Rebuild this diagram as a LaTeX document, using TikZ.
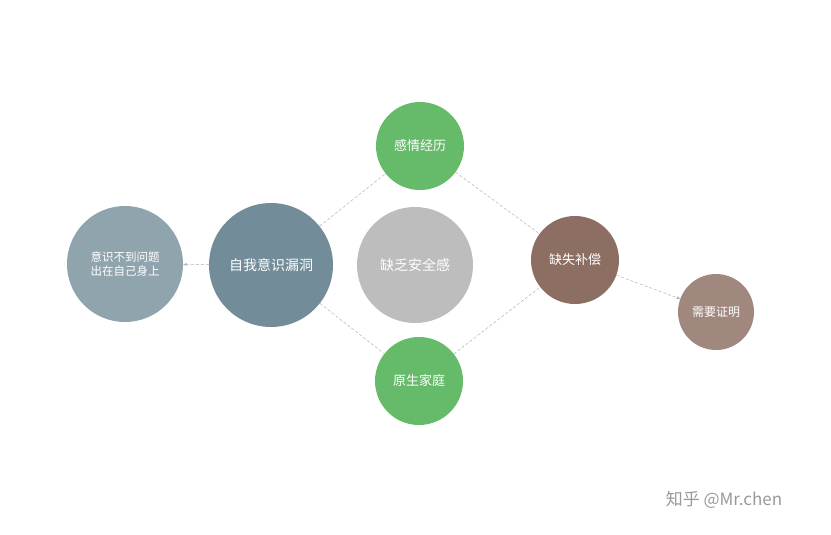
\documentclass[tikz,border=0pt]{standalone}
\usepackage{fontspec}
\setmainfont{Noto Sans CJK SC}
\usetikzlibrary{arrows.meta}
\definecolor{cgreen}{HTML}{66BB6A}
\definecolor{cslate}{HTML}{738C99}
\definecolor{cslatel}{HTML}{90A4AE}
\definecolor{cgray}{HTML}{BDBDBD}
\definecolor{cbrown}{HTML}{8D6E63}
\definecolor{cbrownl}{HTML}{A1887F}
\tikzset{
  ball/.style={circle,inner sep=0pt,text=white,align=center,font=\fontsize{13}{15}\selectfont},
  link/.style={draw=gray!60,densely dashed,line width=0.5pt},
  arr/.style={link,-{Stealth[length=4pt,width=3pt]}}
}
\begin{document}
\begin{tikzpicture}[x=1pt,y=-1pt]
\useasboundingbox (0,0) rectangle (831,535);
\node[ball,fill=cgreen,minimum size=88pt] (emo) at (420,146) {感情经历};
\node[ball,fill=cslate,minimum size=124pt,font=\fontsize{14}{16}\selectfont] (self) at (271,265) {自我意识漏洞};
\node[ball,fill=cgray,minimum size=116pt,font=\fontsize{14}{16}\selectfont] (sec) at (415,265) {缺乏安全感};
\node[ball,fill=cslatel,minimum size=116pt,font=\fontsize{11.5}{14}\selectfont] (aware) at (125,264) {意识不到问题\\出在自己身上};
\node[ball,fill=cbrown,minimum size=88pt] (comp) at (575,260) {缺失补偿};
\node[ball,fill=cgreen,minimum size=88pt] (fam) at (419,381) {原生家庭};
\node[ball,fill=cbrownl,minimum size=76pt,font=\fontsize{12}{14}\selectfont] (prove) at (716,312) {需要证明};
\draw[link] (self) -- (emo);
\draw[link] (self) -- (fam);
\draw[link] (emo) -- (comp);
\draw[link] (fam) -- (comp);
\draw[arr] (self) -- (aware);
\draw[arr] (comp) -- (prove);
\node[text=gray!80,font=\fontsize{17}{20}\selectfont] (wm) at (724,500) {知乎 @Mr.chen};
\end{tikzpicture}
\end{document}
